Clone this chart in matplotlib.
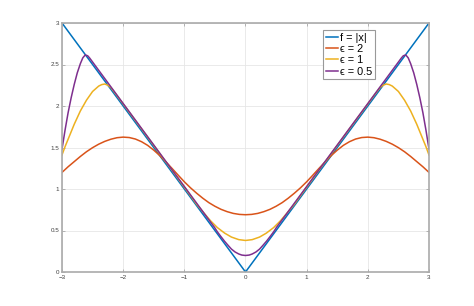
import matplotlib.pyplot as plt

# f = |x|
x_f = [-3, 0, 3]
y_f = [3, 0, 3]

# epsilon = 2
x_e2 = [-3.0, -2.9, -2.8, -2.7, -2.6, -2.5, -2.4, -2.3, -2.2, -2.1, -2.0, -1.9, -1.8, -1.7,
        -1.6, -1.5, -1.4, -1.3, -1.2, -1.1, -1.0, -0.9, -0.8, -0.7, -0.6, -0.5, -0.4, -0.3,
        -0.2, -0.1, 0.0, 0.1, 0.2, 0.3, 0.4, 0.5, 0.6, 0.7, 0.8, 0.9, 1.0, 1.1, 1.2, 1.3,
        1.4, 1.5, 1.6, 1.7, 1.8, 1.9, 2.0, 2.1, 2.2, 2.3, 2.4, 2.5, 2.6, 2.7, 2.8, 2.9, 3.0]
y_e2 = [1.200, 1.268, 1.330, 1.392, 1.449, 1.498, 1.540, 1.574, 1.600, 1.618, 1.625, 1.620,
        1.602, 1.570, 1.526, 1.468, 1.402, 1.326, 1.247, 1.166, 1.087, 1.015, 0.950, 0.890,
        0.836, 0.792, 0.755, 0.727, 0.706, 0.694, 0.690, 0.694, 0.706, 0.727, 0.755, 0.792,
        0.836, 0.890, 0.950, 1.015, 1.087, 1.166, 1.247, 1.326, 1.402, 1.468, 1.526, 1.570,
        1.602, 1.620, 1.625, 1.618, 1.600, 1.574, 1.540, 1.498, 1.449, 1.392, 1.330, 1.268,
        1.200]

# epsilon = 1
x_e1 = [-3.0, -2.95, -2.9, -2.85, -2.8, -2.7, -2.6, -2.5, -2.4, -2.35, -2.3, -2.25, -2.2,
        -2.1, -2.0, -1.5, -1.14, -1.03, -0.91, -0.8, -0.68, -0.57, -0.46, -0.34, -0.23,
        -0.11, 0.0, 0.11, 0.23, 0.34, 0.46, 0.57, 0.68, 0.8, 0.91, 1.03, 1.14, 1.5, 2.0,
        2.1, 2.2, 2.25, 2.3, 2.35, 2.4, 2.5, 2.6, 2.7, 2.8, 2.85, 2.9, 2.95, 3.0]
y_e1 = [1.41, 1.51, 1.60, 1.69, 1.78, 1.94, 2.07, 2.175, 2.24, 2.258, 2.265, 2.25, 2.222,
        2.125, 2.025, 1.525, 1.165, 1.052, 0.932, 0.818, 0.711, 0.616, 0.535, 0.468, 0.421,
        0.39, 0.38, 0.39, 0.421, 0.468, 0.535, 0.616, 0.711, 0.818, 0.932, 1.052, 1.165,
        1.525, 2.025, 2.125, 2.222, 2.25, 2.265, 2.258, 2.24, 2.175, 2.07, 1.94, 1.78, 1.69,
        1.60, 1.51, 1.41]

# epsilon = 0.5
x_e05 = [-3.0, -2.95, -2.9, -2.85, -2.8, -2.75, -2.7, -2.66, -2.62, -2.58, -2.55, -2.5,
         -2.0, -1.0, -0.57, -0.51, -0.46, -0.4, -0.34, -0.28, -0.23, -0.17, -0.11, -0.06,
         0.0, 0.06, 0.11, 0.17, 0.23, 0.28, 0.34, 0.4, 0.46, 0.51, 0.57, 1.0, 2.0,
         2.5, 2.55, 2.58, 2.62, 2.66, 2.7, 2.75, 2.8, 2.85, 2.9, 2.95, 3.0]
y_e05 = [1.48, 1.71, 1.92, 2.10, 2.26, 2.40, 2.51, 2.58, 2.615, 2.605, 2.58, 2.53,
         2.03, 1.03, 0.600, 0.541, 0.484, 0.425, 0.368, 0.317, 0.276, 0.241, 0.217, 0.204,
         0.199, 0.204, 0.217, 0.241, 0.276, 0.317, 0.368, 0.425, 0.484, 0.541, 0.600, 1.03,
         2.03, 2.53, 2.58, 2.605, 2.615, 2.58, 2.51, 2.40, 2.26, 2.10, 1.92, 1.71, 1.48]

fig = plt.figure(figsize=(4.74, 3.06), dpi=100)
ax = fig.add_axes([62/474, 34/306, 367/474, 249/306])

ax.plot(x_f, y_f, color=(0, 0.447, 0.741), lw=1.1, label='f = |x|')
ax.plot(x_e2, y_e2, color=(0.85, 0.325, 0.098), lw=1.1, label='\u03f5 = 2')
ax.plot(x_e1, y_e1, color=(0.929, 0.694, 0.125), lw=1.1, label='\u03f5 = 1')
ax.plot(x_e05, y_e05, color=(0.494, 0.184, 0.556), lw=1.1, label='\u03f5 = 0.5')

ax.set_xlim(-3, 3)
ax.set_ylim(0, 3)
ax.set_xticks([-3, -2, -1, 0, 1, 2, 3])
ax.set_yticks([0, 0.5, 1, 1.5, 2, 2.5, 3])
ax.set_yticklabels(['0', '0.5', '1', '1.5', '2', '2.5', '3'])
ax.grid(True, color='#e6e6e6', lw=0.6)
ax.set_axisbelow(True)
ax.tick_params(direction='in', length=2.5, width=0.5, labelsize=4.5, colors='#9a9a9a',
               labelcolor='#404040', top=True, right=True, pad=2)
for lab in ax.get_xticklabels() + ax.get_yticklabels():
    lab.set_family(['Liberation Sans', 'DejaVu Sans'])
for s in ax.spines.values():
    s.set_color('#aaaaaa')
    s.set_linewidth(1.2)

leg = ax.legend(loc='upper right', bbox_to_anchor=(0.853, 0.972), borderaxespad=0,
                prop={'family': ['Liberation Sans', 'DejaVu Sans'], 'size': 7.8},
                handlelength=1.15, handletextpad=0.15, borderpad=0.25,
                labelspacing=0.12, fancybox=False, framealpha=1)
leg.get_frame().set_edgecolor('#999999')
leg.get_frame().set_linewidth(0.8)

fig.savefig('out.png', dpi=100)
